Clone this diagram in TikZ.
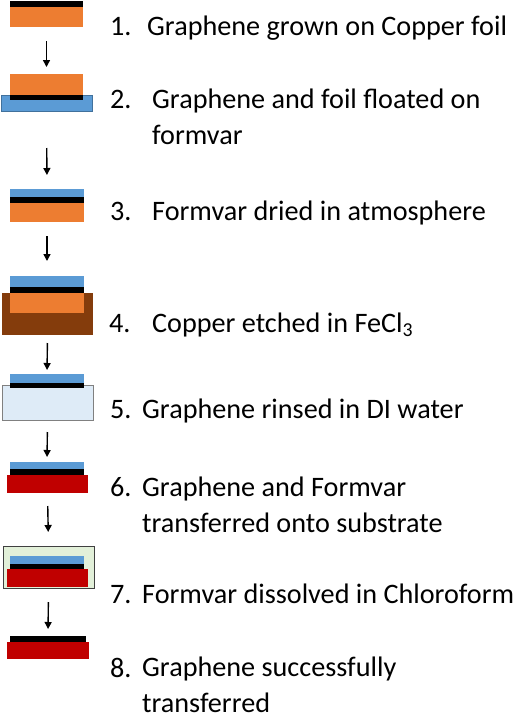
\documentclass[tikz,border=0pt]{standalone}
\usepackage{fontspec}
\setmainfont{Carlito}
\usetikzlibrary{arrows.meta}
\definecolor{cuorange}{HTML}{ED7D31}
\definecolor{fvblue}{HTML}{5B9BD5}
\definecolor{fvedge}{HTML}{41719C}
\definecolor{fecl}{HTML}{843C0C}
\definecolor{diwater}{HTML}{DEEBF7}
\definecolor{subred}{HTML}{C00000}
\definecolor{chloro}{HTML}{E2F0D9}
\tikzstyle{layer}=[rectangle, anchor=north west, inner sep=0, outer sep=0]
\tikzstyle{copper}=[layer, fill=cuorange]
\tikzstyle{formvar}=[layer, fill=fvblue]
\tikzstyle{graphene}=[layer, fill=black]
\tikzstyle{substrate}=[layer, fill=subred]
\tikzstyle{bath}=[layer, draw, line width=0.9pt]
\tikzstyle{flow}=[draw, line width=1.4pt, -{Triangle[length=7pt,width=7pt]}]
\tikzstyle{num}=[anchor=base west, inner sep=0]
\tikzstyle{desc}=[anchor=base west, inner sep=0, align=left]

\begin{document}
\begin{tikzpicture}[x=1pt, y=-1pt, font=\fontsize{28.2}{36}\selectfont]
  \useasboundingbox (0,0) rectangle (520,718);
  % 1
  \node[graphene, minimum width=73, minimum height=6] (g1) at (10,1) {};
  \node[copper, minimum width=73, minimum height=20] (cu1) at (10,7) {};
  % 2
  \node[copper, minimum width=73, minimum height=21] (cu2) at (10,74) {};
  \node[bath, fill=fvblue, draw=fvedge, minimum width=91, minimum height=16] (fv2) at (1,95) {};
  \node[graphene, minimum width=73, minimum height=5] (g2) at (10,95) {};
  % 3
  \node[formvar, minimum width=74, minimum height=8] (fv3) at (10,189) {};
  \node[graphene, minimum width=74, minimum height=6] (g3) at (10,197) {};
  \node[copper, minimum width=74, minimum height=19] (cu3) at (10,203) {};
  % 4
  \node[formvar, minimum width=74, minimum height=11] (fv4) at (10,276) {};
  \node[graphene, minimum width=74, minimum height=6] (g4) at (10,287) {};
  \node[layer, fill=fecl, minimum width=91, minimum height=42] (fe4) at (2,293) {};
  \node[copper, minimum width=74, minimum height=20] (cu4) at (10,293) {};
  % 5
  \node[formvar, minimum width=74, minimum height=9] (fv5) at (10,374) {};
  \node[bath, fill=diwater, draw=gray, minimum width=91, minimum height=35] (di5) at (2,385) {};
  \node[graphene, minimum width=74, minimum height=5] (g5) at (10,383) {};
  % 6
  \node[formvar, minimum width=74, minimum height=7] (fv6) at (10,462) {};
  \node[graphene, minimum width=74, minimum height=6] (g6) at (10,469) {};
  \node[substrate, minimum width=81, minimum height=18] (si6) at (7,475) {};
  % 7
  \node[bath, fill=chloro, draw=darkgray, minimum width=91, minimum height=42] (cf7) at (3,546) {};
  \node[formvar, minimum width=74, minimum height=8] (fv7) at (10,556) {};
  \node[graphene, minimum width=74, minimum height=5] (g7) at (10,564) {};
  \node[substrate, minimum width=81, minimum height=18] (si7) at (7,569) {};
  % 8
  \node[graphene, minimum width=76, minimum height=6] (g8) at (10,636) {};
  \node[substrate, minimum width=82, minimum height=17] (si8) at (7,642) {};

  \draw[flow, shorten <=14pt, shorten >=7pt] (cu1.south) -- (cu2.north);
  \draw[flow, shorten <=37pt, shorten >=14pt] (fv2.south) -- (fv3.north);
  \draw[flow, shorten <=14pt, shorten >=15pt] (cu3.south) -- (fv4.north);
  \draw[flow, shorten <=8pt, shorten >=4pt] (fe4.south) -- (fv5.north);
  \draw[flow, shorten <=12pt, shorten >=5pt] (di5.south) -- (fv6.north);
  \draw[flow, shorten <=13pt, shorten >=14pt] (si6.south) -- (cf7.north);
  \draw[flow, shorten <=14pt, shorten >=7pt] (cf7.south) -- (g8.north);

  % labels (two-line nodes sit on their last baseline)
  \node[num] (n1) at (110,35) {1.};
  \node[desc] (t1) at (147,35) {Graphene grown on Copper foil};
  \node[num] (n2) at (110,108) {2.};
  \node[desc] (t2) at (152,144) {Graphene and foil floated on\\formvar};
  \node[num] (n3) at (110,220) {3.};
  \node[desc] (t3) at (152,220) {Formvar dried in atmosphere};
  \node[num] (n4) at (109,332) {4.};
  \node[desc] (t4) at (152,332) {Copper etched in FeCl\textsubscript{3}};
  \node[num] (n5) at (110,418) {5.};
  \node[desc] (t5) at (142,418) {Graphene rinsed in DI water};
  \node[num] (n6) at (110,496) {6.};
  \node[desc] (t6) at (142,532) {Graphene and Formvar\\transferred onto substrate};
  \node[num] (n7) at (110,603) {7.};
  \node[desc] (t7) at (142,603) {Formvar dissolved in Chloroform};
  \node[num] (n8) at (110,677) {8.};
  \node[desc] (t8) at (142,712) {Graphene successfully\\transferred};
\end{tikzpicture}
\end{document}
